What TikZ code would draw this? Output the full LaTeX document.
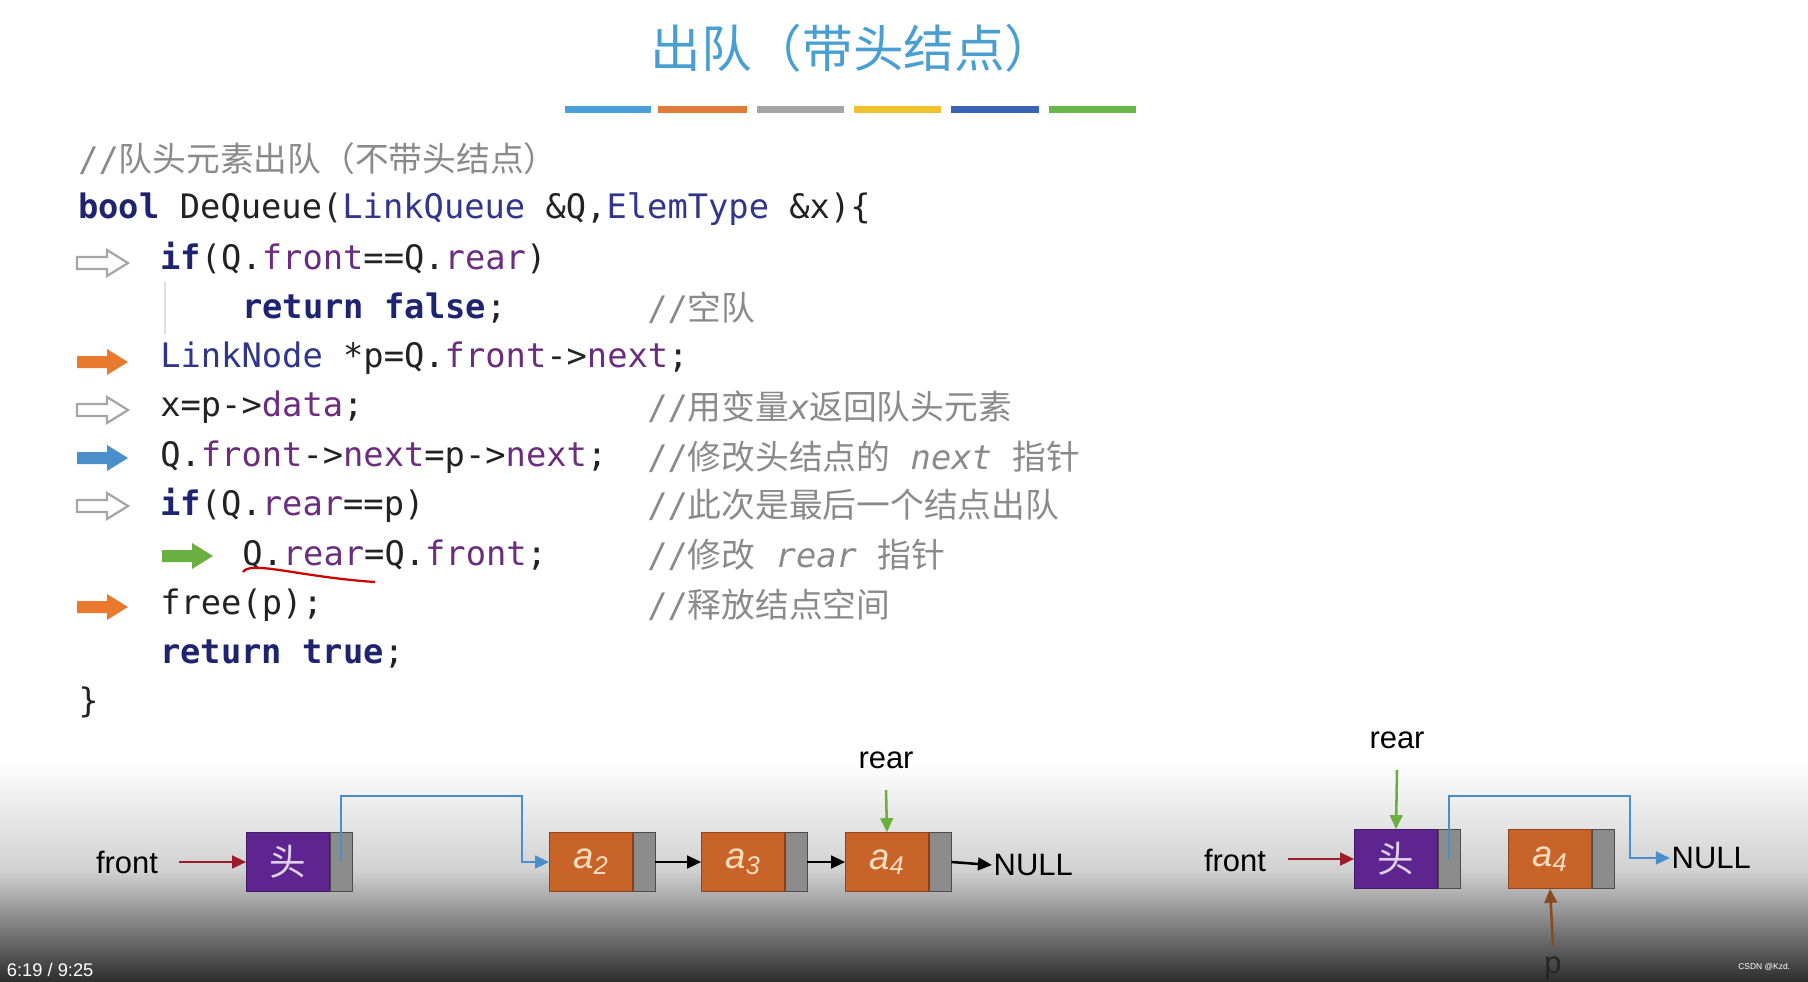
\documentclass[tikz,border=0pt]{standalone}
\usepackage{fontspec}
\setmonofont{DejaVu Sans Mono}
\setsansfont{Liberation Sans}
\newfontfamily\cjk{Noto Sans CJK SC}
\usetikzlibrary{arrows.meta}
\definecolor{kwc}{HTML}{1E2470}
\definecolor{tyc}{HTML}{30358E}
\definecolor{fdc}{HTML}{6B2D7E}
\definecolor{cmc}{HTML}{8A8A8A}
\definecolor{txc}{HTML}{222222}
\definecolor{ttl}{HTML}{4A9FD2}
\definecolor{purp}{HTML}{5E2590}
\definecolor{orng}{HTML}{C8632A}
\definecolor{gryb}{HTML}{8C8C8C}
\definecolor{lblue}{HTML}{4A8FCB}
\definecolor{lgreen}{HTML}{6AB040}
\definecolor{dred}{HTML}{9C1C2A}
\definecolor{brwn}{HTML}{8A4A20}
\definecolor{oarr}{HTML}{E8792F}
\definecolor{barA}{HTML}{4A9FD8}
\definecolor{barB}{HTML}{E07B39}
\definecolor{barC}{HTML}{A5A5A5}
\definecolor{barD}{HTML}{F2C12E}
\definecolor{barE}{HTML}{3A63B8}
\definecolor{barF}{HTML}{6AB648}
\newcommand\kw[1]{\textcolor{kwc}{\bfseries #1}}
\newcommand\ty[1]{\textcolor{tyc}{#1}}
\newcommand\fd[1]{\textcolor{fdc}{#1}}
\newcommand\cmt[1]{\textcolor{cmc}{//{\cjk #1}}}
\tikzset{
 code/.style={anchor=west,inner sep=0pt,text=txc,font=\ttfamily\fontsize{24pt}{28pt}\selectfont},
 barrow/.pic={\path[pic actions] (0,-6)--(30,-6)--(30,-13)--(51,0)--(30,13)--(30,6)--(0,6)--cycle;},
 hollow/.style={draw=gray!70,fill=white,line width=1.6pt},
 datab/.style={minimum width=2.075cm,minimum height=1.475cm,inner sep=0pt,font=\sffamily\itshape\fontsize{26pt}{28pt}\selectfont,text=white!75!orange},
 ptrb/.style={fill=gryb,draw=gray!60!black,minimum width=0.55cm,minimum height=1.475cm,inner sep=0pt,anchor=west},
 lbl/.style={font=\sffamily\fontsize{22pt}{24pt}\selectfont,text=black,inner sep=1pt},
 nxt/.style={-{Triangle[length=10pt,width=9pt]},line width=1.8pt},
}
\begin{document}
\begin{tikzpicture}[x=0.025cm,y=-0.025cm]
\useasboundingbox (0,0) rectangle (1808,981);
\fill[white] (0,0) rectangle (1808,981);
\shade[top color=white,bottom color=black!82,middle color=black!18] (0,760) rectangle (1808,981);
% title
\node[font=\cjk\fontsize{36pt}{40pt}\selectfont,text=ttl] (title) at (853,48) {出队（带头结点）};
\foreach \a/\b/\c in {565/651/barA,658/747/barB,757/844/barC,854/941/barD,951/1039/barE,1049/1136/barF}
  \fill[\c] (\a,106) rectangle (\b,113);
% code
\node[code] (l1) at (78,159) {\cmt{队头元素出队（不带头结点）}};
\node[code] (l2) at (78,209) {\kw{bool} DeQueue(\ty{LinkQueue} \&Q,\ty{ElemType} \&x)\{};
\node[code] (l3) at (160,258) {\kw{if}(Q.\fd{front}==Q.\fd{rear})};
\node[code] (l4) at (242,308) {\kw{return} \kw{false};};
\node[code] (c4) at (647,308) {\cmt{空队}};
\node[code] (l5) at (160,358) {\ty{LinkNode} *p=Q.\fd{front}->\fd{next};};
\node[code] (l6) at (160,407) {x=p->\fd{data};};
\node[code] (c6) at (647,407) {\textcolor{cmc}{//{\cjk 用变量}\textit{x}{\cjk 返回队头元素}}};
\node[code] (l7) at (160,457) {Q.\fd{front}->\fd{next}=p->\fd{next};};
\node[code] (c7) at (647,457) {\textcolor{cmc}{//{\cjk 修改头结点的} \textit{next} {\cjk 指针}}};
\node[code] (l8) at (160,505) {\kw{if}(Q.\fd{rear}==p)};
\node[code] (c8) at (647,505) {\cmt{此次是最后一个结点出队}};
\node[code] (l9) at (242,555) {Q.\fd{rear}=Q.\fd{front};};
\node[code] (c9) at (647,555) {\textcolor{cmc}{//{\cjk 修改} \textit{rear} {\cjk 指针}}};
\node[code] (l10) at (160,605) {free(p);};
\node[code] (c10) at (647,605) {\cmt{释放结点空间}};
\node[code] (l11) at (160,654) {\kw{return} \kw{true};};
\node[code] (l12) at (78,702) {\}};
\draw[gray!25,line width=1pt] (165,282) -- (165,334);
\draw[red!80!black,line width=1.6pt] (243,572) .. controls (250,560) and (300,577) .. (375,582);
% block arrows
\pic[hollow] at (77,263) {barrow};
\pic[fill=oarr,draw=none] at (77,362) {barrow};
\pic[hollow] at (77,410) {barrow};
\pic[fill=lblue,draw=none] at (77,458) {barrow};
\pic[hollow] at (77,506) {barrow};
\pic[fill=lgreen,draw=none] at (162,556) {barrow};
\pic[fill=oarr,draw=none] at (77,607) {barrow};
% left list
\node[lbl] (fr1) at (127,862) {front};
\node[datab,fill=purp,draw=purp!70!black,text=white!80!purp] (h1) at (288,862) {\cjk\upshape 头};
\node[ptrb] (h1p) at (h1.east) {};
\node[datab,fill=orng,draw=orng!70!black] (a2) at (591,862) {a\textsubscript{2}};
\node[ptrb] (a2p) at (a2.east) {};
\node[datab,fill=orng,draw=orng!70!black] (a3) at (743,862) {a\textsubscript{3}};
\node[ptrb] (a3p) at (a3.east) {};
\node[datab,fill=orng,draw=orng!70!black] (a4) at (887,862) {a\textsubscript{4}};
\node[ptrb] (a4p) at (a4.east) {};
\node[lbl,anchor=west] (nl1) at (992,865) {NULL};
\node[lbl] (re1) at (886,760) {rear};
\draw[nxt,dred] (179,862) -- (h1.west);
\draw[nxt,lblue] (h1p.center) |- (522,796) |- (a2.west);
\draw[nxt] (a2p.east) -- (a3.west);
\draw[nxt] (a3p.east) -- (a4.west);
\draw[nxt] (a4p.east) -- (nl1.west);
\draw[nxt,lgreen] (886,790) -- (a4.north);
% right list
\node[lbl] (fr2) at (1235,860) {front};
\node[datab,fill=purp,draw=purp!70!black,text=white!80!purp] (h2) at (1396,859) {\cjk\upshape 头};
\node[ptrb] (h2p) at (h2.east) {};
\node[datab,fill=orng,draw=orng!70!black] (b4) at (1550,859) {a\textsubscript{4}};
\node[ptrb] (b4p) at (b4.east) {};
\node[lbl,anchor=west] (nl2) at (1670,858) {NULL};
\node[lbl] (re2) at (1397,740) {rear};
\node[lbl,text=black!85] (pp) at (1553,968) {p};
\draw[nxt,dred] (1288,859) -- (h2.west);
\draw[nxt,lblue] (h2p.center) |- (1630,796) |- (nl2.west);
\draw[nxt,lgreen] (1397,770) -- (h2.north);
\draw[nxt,brwn] (1553,946) -- (b4.south);
% player bar
\node[anchor=west,text=white,font=\sffamily\fontsize{13pt}{15pt}\selectfont] (tm) at (2,970) {6:19 / 9:25};
\node[anchor=east,text=white!70,font=\sffamily\fontsize{6pt}{7pt}\selectfont] (cs) at (1795,967) {CSDN @Kzd.};
\end{tikzpicture}
\end{document}
